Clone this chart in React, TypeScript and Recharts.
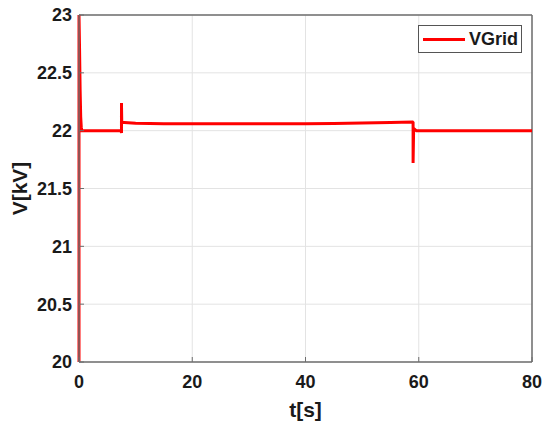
import React from 'react';
import {
  CartesianGrid,
  Legend,
  Line,
  LineChart,
  ReferenceLine,
  XAxis,
  YAxis,
} from 'recharts';

// time [s] and grid voltage [kV]
const timeS = [
  0, 0, 0.1, 0.2, 0.3, 0.4, 0.5, 0.7, 2, 4, 6, 7.45, 7.5, 7.5, 7.55, 8, 10, 15, 20,
  30, 40, 45, 50, 55, 58.9, 59.0, 59.0, 59.1, 59.3, 59.6, 60, 65, 70, 80,
];
const vGrid = [
  20, 23, 22.7, 22.35, 22.12, 22.03, 22.0, 22.0, 22.0, 22.0, 22.0, 22.0, 21.98, 22.24,
  22.07, 22.07, 22.065, 22.06, 22.06, 22.06, 22.06, 22.062, 22.066, 22.07, 22.075,
  22.07, 21.72, 22.02, 22.01, 22.0, 22.0, 22.0, 22.0, 22.0,
];

const xTicks = [0, 20, 40, 60, 80];
const yTicks = [20, 20.5, 21, 21.5, 22, 22.5, 23];

const data = timeS.map((t, i) => ({ t, v: vGrid[i] }));

const FONT = '"Liberation Sans", Arial, sans-serif';
const AXIS = '#6e6e6e';
const RED = '#ff0000';

const LegendBox = () => (
  <div
    style={{
      display: 'flex',
      alignItems: 'center',
      border: '1px solid #555',
      background: '#fff',
      width: 104,
      height: 28,
      boxSizing: 'border-box',
      fontFamily: FONT,
      fontWeight: 'bold',
      fontSize: 18,
      color: '#1a1a1a',
    }}
  >
    <div style={{ width: 42, height: 3, background: RED, marginLeft: 4, marginRight: 4 }} />
    <span>VGrid</span>
  </div>
);

export default function App() {
  return (
    <div style={{ position: 'absolute', left: 0, top: 0, background: '#fff' }}>
      <LineChart
        width={550}
        height={427}
        data={data}
        margin={{ top: 15, right: 18, bottom: 0, left: 0 }}
        style={{ fontFamily: FONT }}
      >
        <CartesianGrid stroke='#e3e3e3' strokeWidth={1} />
        <XAxis
          dataKey='t'
          type='number'
          domain={[0, 80]}
          ticks={xTicks}
          height={65}
          axisLine={{ stroke: AXIS, strokeWidth: 1.5 }}
          tickLine={{ stroke: AXIS }}
          tickSize={-5}
          tickMargin={18}
          tick={{ fill: '#1a1a1a', fontSize: 18, fontWeight: 'bold' }}
          label={{
            content: ({ viewBox }: any) => (
              <text
                x={viewBox.x + viewBox.width / 2}
                y={409}
                textAnchor='middle'
                dominantBaseline='central'
                fontSize={21}
                fontWeight='bold'
                fill='#1a1a1a'
              >
                t[s]
              </text>
            ),
          }}
        />
        <YAxis
          type='number'
          domain={[20, 23]}
          ticks={yTicks}
          width={79}
          allowDataOverflow
          axisLine={{ stroke: AXIS, strokeWidth: 1.5 }}
          tickLine={{ stroke: AXIS }}
          tickSize={-5}
          tickMargin={12}
          tick={{ fill: '#1a1a1a', fontSize: 18, fontWeight: 'bold' }}
          label={{
            content: ({ viewBox }: any) => (
              <text
                x={19}
                y={viewBox.y + viewBox.height / 2}
                transform={`rotate(-90, 19, ${viewBox.y + viewBox.height / 2})`}
                textAnchor='middle'
                dominantBaseline='central'
                fontSize={21}
                fontWeight='bold'
                fill='#1a1a1a'
              >
                V[kV]
              </text>
            ),
          }}
        />
        <ReferenceLine y={23} stroke={AXIS} strokeWidth={1.5} />
        <ReferenceLine x={80} stroke={AXIS} strokeWidth={1.5} />
        <Legend
          layout='horizontal'
          verticalAlign='middle'
          align='center'
          content={() => <LegendBox />}
          wrapperStyle={{ top: 25, left: 418, width: 'auto', height: 'auto' }}
        />
        <Line
          dataKey='v'
          type='linear'
          stroke={RED}
          strokeWidth={3}
          dot={false}
          isAnimationActive={false}
        />
      </LineChart>
    </div>
  );
}
